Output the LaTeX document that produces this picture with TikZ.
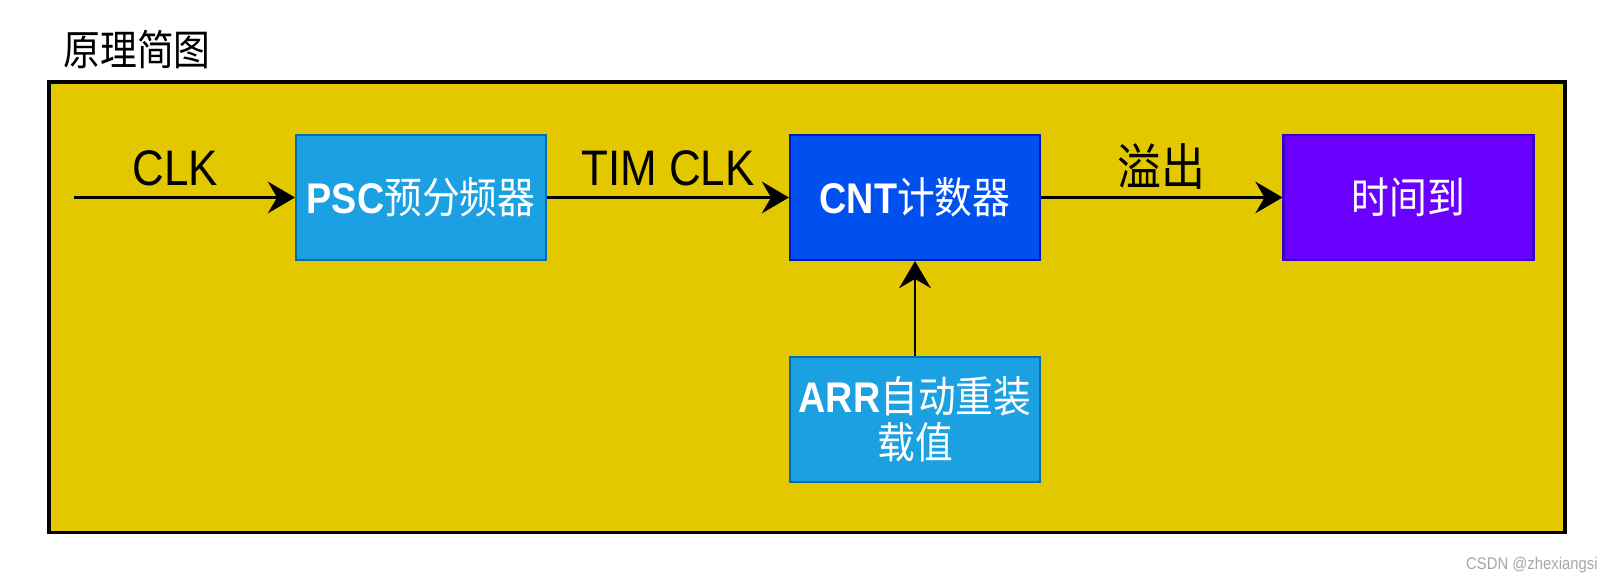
\documentclass[tikz,border=0pt]{standalone}
\usepackage{fontspec}
\setmainfont{Liberation Sans}[FakeStretch=0.88]
\newfontfamily\cjk{Noto Sans CJK SC}[FakeStretch=0.88]
\usetikzlibrary{arrows.meta,positioning}

\definecolor{fondo}{HTML}{E3C800}
\definecolor{azulclaro}{HTML}{1BA1E2}
\definecolor{azulclaroborde}{HTML}{006EAF}
\definecolor{azul}{HTML}{0050EF}
\definecolor{azulborde}{HTML}{001DBC}
\definecolor{violeta}{HTML}{6A00FF}
\definecolor{violetaborde}{HTML}{3700CC}

\begin{document}
\begin{tikzpicture}[>={Stealth[length=7.7pt,width=9pt,inset=2.6pt]}, thick,
  caja/.style={rectangle, draw, line width=0.6pt, minimum width=2.5cm, minimum height=1.25cm,
    inner sep=0pt, text=white, align=center, font=\fontsize{12.2}{13.2}\selectfont\bfseries},
  etiqueta/.style={anchor=base, inner sep=0pt, font=\fontsize{14.2}{16}\selectfont}]

\useasboundingbox (0,0) rectangle (16.12,5.84);

% Marco
\draw[fill=fondo, line width=1pt] (0.49,0.515) rectangle (15.65,5.02);
\node[anchor=base west, inner sep=0pt, font=\cjk\fontsize{11.9}{13}\selectfont] (titulo) at (0.62,5.18) {原理简图};

% Bloques
\node[caja, fill=azulclaro, draw=azulclaroborde] (psc) at (4.21,3.865) {PSC{\cjk\mdseries 预分频器}};
\node[caja, fill=azul, draw=azulborde] (cnt) at (9.15,3.865) {CNT{\cjk\mdseries 计数器}};
\node[caja, fill=violeta, draw=violetaborde] (fin) at (14.085,3.865) {{\cjk\mdseries 时间到}};
\node[caja, fill=azulclaro, draw=azulclaroborde] (arr) at (9.15,1.645) {ARR{\cjk\mdseries 自动重装}\\{\cjk\mdseries 载值}};

% Entrada de reloj
\coordinate (entrada) at (0.74,3.865);

% Flechas
\draw[->] (entrada) -- (psc) node[etiqueta, midway, xshift=-0.09cm, yshift=0.12cm] {CLK};
\draw[->] (psc) -- (cnt) node[etiqueta, midway, yshift=0.12cm] {TIM CLK};
\draw[->] (cnt) -- (fin) node[etiqueta, midway, yshift=0.12cm] {\cjk 溢出};
\draw[->] (arr) -- (cnt);

% Marca
\node[anchor=east, inner sep=0pt, text=gray!70, font=\fontsize{4.8}{5.5}\selectfont] (marca) at (15.99,0.19) {CSDN @zhexiangsi};

\end{tikzpicture}
\end{document}
